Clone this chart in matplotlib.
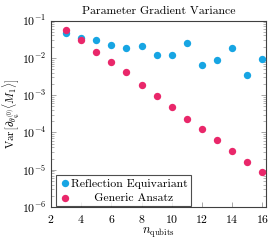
import matplotlib
matplotlib.use('Agg')
import matplotlib.pyplot as plt

plt.rcParams['font.family'] = 'serif'
plt.rcParams['font.serif'] = ['cmr10', 'DejaVu Serif']
plt.rcParams['mathtext.fontset'] = 'cm'
plt.rcParams['axes.formatter.use_mathtext'] = True

n_qubits = [3, 4, 5, 6, 7, 8, 9, 10, 11, 12, 13, 14, 15, 16]
var_equivariant = [0.048, 0.034, 0.0295, 0.0218, 0.0184, 0.0213, 0.0120, 0.0117,
                   0.0257, 0.0064, 0.0088, 0.0188, 0.0035, 0.0091]
var_generic = [0.057, 0.0296, 0.0147, 0.0077, 0.0041, 0.00186, 0.00098, 0.00047,
               0.000234, 0.000127, 6.3e-5, 3.1e-5, 1.65e-5, 8.7e-6]

blue = '#17a5e3'
red = '#e9276a'

fig = plt.figure(figsize=(2.75, 2.4), dpi=100)
ax = fig.add_axes([0.1855, 0.1375, 0.7805, 0.7765])

ax.scatter(n_qubits, var_equivariant, s=28, color=blue, lw=0, label='Reflection Equivariant', zorder=3)
ax.scatter(n_qubits, var_generic, s=28, color=red, lw=0, label='      Generic Ansatz', zorder=3)

ax.set_yscale('log')
ax.set_ylim(1e-6, 1e-1)
ax.set_xlim(2, 16.23)
ax.set_xticks([2, 4, 6, 8, 10, 12, 14, 16])

for s in ax.spines.values():
    s.set_color('#404040')
    s.set_linewidth(0.8)
ax.tick_params(axis='both', which='both', direction='in', labelsize=8.5, color='#999999')
ax.tick_params(axis='y', which='both', right=True)
ax.tick_params(axis='x', which='both', top=False)
ax.tick_params(which='major', length=3.5, width=0.6)
ax.tick_params(which='minor', length=2, width=0.5)
ax.tick_params(axis='x', pad=4)

ax.set_title('Parameter Gradient Variance', fontsize=8.5, pad=5)
ax.set_xlabel(r'$n_{\mathrm{qubits}}$', fontsize=9, labelpad=1)
ax.set_ylabel(r'$\mathrm{Var}\left[\partial_{\theta_{q_c}^{(0)}}\langle M_1\rangle\right]$',
              fontsize=8, labelpad=0)

leg = ax.legend(loc='lower left', fontsize=8.5, frameon=True, fancybox=False,
                edgecolor='#222222', handletextpad=0.1, borderpad=0.3,
                labelspacing=0.35, handlelength=0.8, borderaxespad=0.0,
                bbox_to_anchor=(0.025, 0.003))
leg.get_frame().set_linewidth(0.8)

fig.savefig('out.png', dpi=100)
plt.close(fig)
